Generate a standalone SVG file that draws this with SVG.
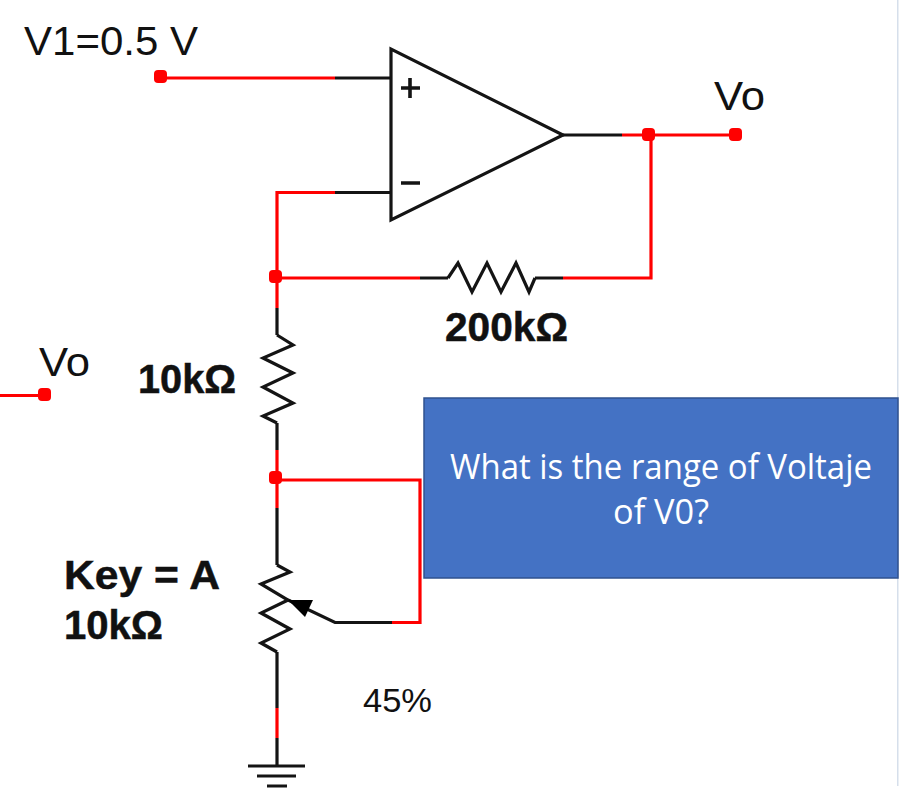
<svg xmlns="http://www.w3.org/2000/svg" width="904" height="796" viewBox="0 0 904 796">
<style>
.blk{fill:none;stroke:#141414;stroke-width:3.2;stroke-linejoin:miter}
.red{fill:none;stroke:#ff0000;stroke-width:3.2;stroke-linejoin:miter}
.dot{fill:#ff0000}
.lbl{font-family:"Liberation Sans",Arial,sans-serif;fill:#111}
.b{font-weight:700;stroke:#111;stroke-width:.5}
.q{font-family:"Open Sans","Noto Sans",sans-serif;fill:#fff;font-size:34px;text-anchor:middle}
</style>
<rect width="904" height="796" fill="#fff"/>
<rect id="page-edge" x="897" y="0" width="1.500" height="786" fill="#d6dfeb"/>
<g id="connectors">
<path class="red" d="M160 78H335M335 192.500H277V308M277 278H420M563 278H651V135M622 135H735M277 450V508M277 480H420V622.500H392M277 708V738M0 395.500H44"/>
<path class="blk" d="M335 78H391M335 192.500H391M563 135H622M420 278H448M535 278H563M277 308V335M277 423V450M277 508V565M277 652V708M277 738V766M392 622.500H335L288 600"/>
</g>
<g id="junctions">
<rect class="dot" x="154" y="70" width="13" height="13" rx="4"/>
<rect class="dot" x="642" y="128" width="13" height="13" rx="4"/>
<rect class="dot" x="729" y="128" width="13" height="13" rx="4"/>
<rect class="dot" x="269" y="270" width="13" height="13" rx="4"/>
<rect class="dot" x="269" y="471" width="13" height="13" rx="4"/>
<rect class="dot" x="38" y="388" width="13" height="13" rx="4"/>
</g>
<g id="opamp">
<path class="blk" d="M391 49V220L563 135Z"/>
<path class="blk" stroke-width="3.600" d="M401 88H420M410 78V98M401 183H420" style="stroke-width:3.600"/>
</g>
<g id="r-200k">
<path class="blk" d="M448 278L458 263L472 292L487 263L501 292L516 263L529 292L535 278"/>
</g>
<g id="r-10k">
<path class="blk" d="M277 335L293 345L263 358L293 373L263 387L293 403L263 416L277 423"/>
</g>
<g id="potentiometer">
<path class="blk" d="M277 565L290 572L261 584L288 600L261 613L290 629L261 643L277 652"/>
<path fill="#000" d="M288 600L313 600L305 617Z"/>
</g>
<g id="ground">
<path class="blk" d="M248 766H305M257 776H296M267 786H287"/>
</g>
<g id="labels">
<text class="lbl" x="24" y="55" font-size="40" textLength="174" lengthAdjust="spacingAndGlyphs">V1=0.5 V</text>
<text class="lbl" x="714" y="110" font-size="40" textLength="51" lengthAdjust="spacingAndGlyphs">Vo</text>
<text class="lbl" x="39" y="376" font-size="40" textLength="51" lengthAdjust="spacingAndGlyphs">Vo</text>
<text class="lbl b" x="445" y="341" font-size="40" textLength="123" lengthAdjust="spacingAndGlyphs">200kΩ</text>
<text class="lbl b" x="138" y="393" font-size="40" textLength="98" lengthAdjust="spacingAndGlyphs">10kΩ</text>
<text class="lbl b" x="64" y="589" font-size="40" textLength="156" lengthAdjust="spacingAndGlyphs">Key = A</text>
<text class="lbl b" x="64" y="639" font-size="40" textLength="99" lengthAdjust="spacingAndGlyphs">10kΩ</text>
<text class="lbl" x="363" y="712" font-size="34" textLength="69" lengthAdjust="spacingAndGlyphs">45%</text>
</g>
<g id="question">
<rect x="424" y="398" width="474" height="180" fill="#4472C4" stroke="#2F528F" stroke-width="1.500"/>
<text class="q" x="661" y="478.500" textLength="422" lengthAdjust="spacingAndGlyphs">What is the range of Voltaje</text>
<text class="q" x="661" y="523.500" textLength="96" lengthAdjust="spacingAndGlyphs">of V0?</text>
</g>
</svg>
